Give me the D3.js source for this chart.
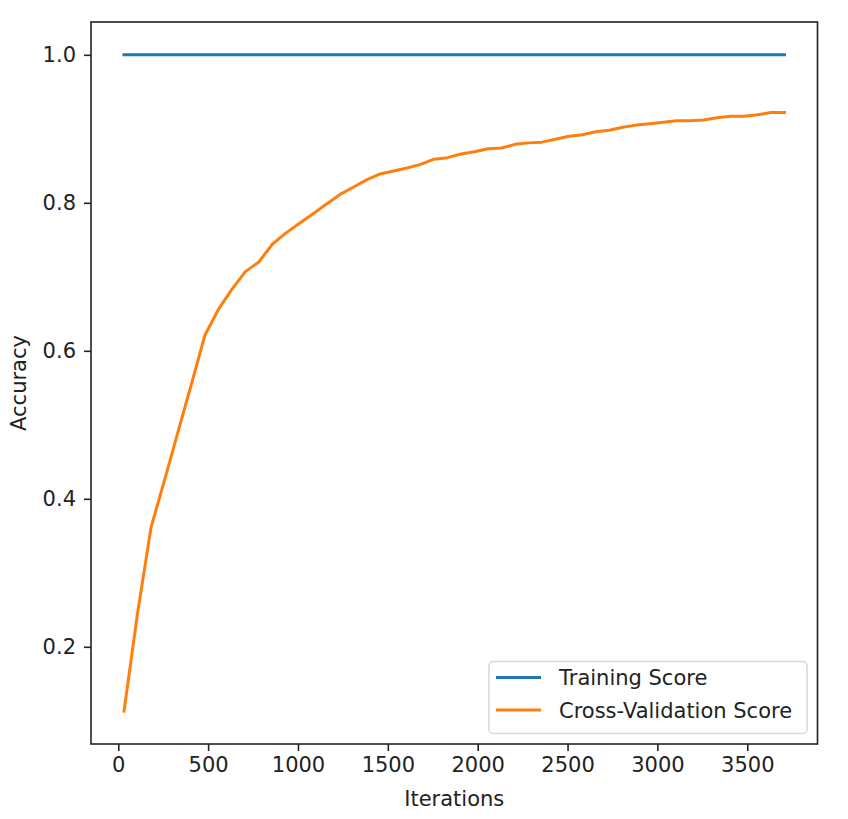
<!DOCTYPE html>
<html>
<head>
<meta charset="utf-8">
<script src="https://cdn.jsdelivr.net/npm/d3@7"></script>
<style>
  body { margin: 0; background: #fff; }
  text { font-family: "DejaVu Sans", sans-serif; fill: #222; }
</style>
</head>
<body>
<svg id="chart"></svg>
<script>
const width = 848;
const height = 819;

// training sizes (x)
const iterations = [32, 107, 182, 257, 332, 407, 482, 557, 632, 707,
  782, 857, 932, 1007, 1082, 1157, 1232, 1307, 1382, 1457,
  1532, 1607, 1682, 1757, 1832, 1907, 1982, 2057, 2132, 2207,
  2282, 2357, 2432, 2507, 2582, 2657, 2732, 2807, 2882, 2957,
  3032, 3107, 3182, 3257, 3332, 3407, 3482, 3557, 3632, 3707];

const trainScore = [1, 1, 1, 1, 1, 1, 1, 1, 1, 1,
  1, 1, 1, 1, 1, 1, 1, 1, 1, 1,
  1, 1, 1, 1, 1, 1, 1, 1, 1, 1,
  1, 1, 1, 1, 1, 1, 1, 1, 1, 1,
  1, 1, 1, 1, 1, 1, 1, 1, 1, 1];

const cvScore = [0.113, 0.245, 0.361, 0.425, 0.490, 0.555, 0.621, 0.656, 0.683, 0.707,
  0.720, 0.744, 0.759, 0.772, 0.785, 0.798, 0.811, 0.821, 0.831, 0.839,
  0.843, 0.847, 0.852, 0.859, 0.861, 0.866, 0.869, 0.873, 0.874, 0.879,
  0.881, 0.882, 0.886, 0.890, 0.892, 0.896, 0.898, 0.902, 0.905, 0.907,
  0.909, 0.911, 0.911, 0.912, 0.915, 0.917, 0.917, 0.919, 0.922, 0.922];

const xTicks = [0, 500, 1000, 1500, 2000, 2500, 3000, 3500];
const yTicks = [0.2, 0.4, 0.6, 0.8, 1.0];

const seriesNames = ["Training Score", "Cross-Validation Score"];
const seriesColors = ["#1f77b4", "#ff7f0e"];

const margin = { top: 22, right: 30.5, bottom: 75, left: 91 };
const plotW = width - margin.left - margin.right;
const plotH = height - margin.top - margin.bottom;
const fontSize = 21;

const svg = d3.select("#chart")
  .attr("width", width)
  .attr("height", height);

// matplotlib style 5% margins around data
const xExt = d3.extent(iterations);
const xPad = (xExt[1] - xExt[0]) * 0.05;
const yAll = trainScore.concat(cvScore);
const yExt = d3.extent(yAll);
const yPad = (yExt[1] - yExt[0]) * 0.05;

const x = d3.scaleLinear()
  .domain([xExt[0] - xPad, xExt[1] + xPad])
  .range([margin.left, margin.left + plotW]);

const y = d3.scaleLinear()
  .domain([yExt[0] - yPad, yExt[1] + yPad])
  .range([margin.top + plotH, margin.top]);

const line = d3.line()
  .x(d => x(d[0]))
  .y(d => y(d[1]));

// lines
[trainScore, cvScore].forEach(function (vals, i) {
  svg.append("path")
    .datum(iterations.map((it, j) => [it, vals[j]]))
    .attr("d", line)
    .attr("fill", "none")
    .attr("stroke", seriesColors[i])
    .attr("stroke-width", 3)
    .attr("stroke-linejoin", "round")
    .attr("stroke-linecap", "square");
});

// axes
const xAxis = d3.axisBottom(x).tickValues(xTicks).tickFormat(d3.format("d")).tickSize(7).tickPadding(6);
const gx = svg.append("g")
  .attr("transform", `translate(0, ${margin.top + plotH})`)
  .call(xAxis);

const yAxis = d3.axisLeft(y).tickValues(yTicks).tickFormat(d3.format(".1f")).tickSize(7).tickPadding(8);
const gy = svg.append("g")
  .attr("transform", `translate(${margin.left}, 0)`)
  .call(yAxis);

[gx, gy].forEach(function (g) {
  g.select(".domain").remove();
  g.selectAll(".tick line").attr("stroke", "#222").attr("stroke-width", 1.6);
  g.selectAll(".tick text")
    .style("font-size", fontSize + "px")
    .style("font-family", "DejaVu Sans")
    .attr("fill", "#222");
});

// spines
svg.append("rect")
  .attr("x", margin.left)
  .attr("y", margin.top)
  .attr("width", plotW)
  .attr("height", plotH)
  .attr("fill", "none")
  .attr("stroke", "#222")
  .attr("stroke-width", 1.6);

// axis labels
svg.append("text")
  .attr("x", margin.left + plotW / 2)
  .attr("y", 806)
  .attr("text-anchor", "middle")
  .style("font-size", fontSize + "px")
  .text("Iterations");

svg.append("text")
  .attr("transform", `translate(26, ${margin.top + plotH / 2}) rotate(-90)`)
  .attr("text-anchor", "middle")
  .style("font-size", fontSize + "px")
  .text("Accuracy");

// legend
const legW = 318;
const legH = 72;
const legX = margin.left + plotW - 10.5 - legW;
const legY = margin.top + plotH - 10.5 - legH;

const legend = svg.append("g")
  .attr("transform", `translate(${legX}, ${legY})`);

legend.append("rect")
  .attr("width", legW)
  .attr("height", legH)
  .attr("rx", 4)
  .attr("fill", "#fff")
  .attr("fill-opacity", 0.8)
  .attr("stroke", "#d6d6d6")
  .attr("stroke-width", 1.5);

seriesNames.forEach(function (name, i) {
  const ly = 16 + i * 32.5;
  legend.append("line")
    .attr("x1", 7)
    .attr("x2", 52)
    .attr("y1", ly)
    .attr("y2", ly)
    .attr("stroke", seriesColors[i])
    .attr("stroke-width", 3);
  legend.append("text")
    .attr("x", 70)
    .attr("y", ly)
    .attr("dy", "0.36em")
    .style("font-size", fontSize + "px")
    .text(name);
});
</script>
</body>
</html>
